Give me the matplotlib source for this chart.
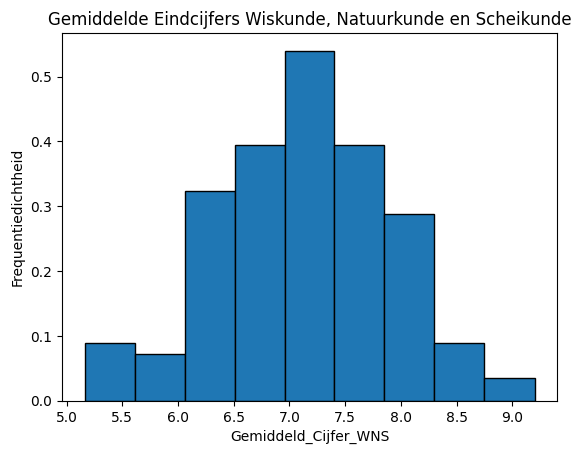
import matplotlib
matplotlib.use("Agg")
import matplotlib.pyplot as plt
import numpy as np

bin_edges = [5.16, 5.609, 6.058, 6.507, 6.956, 7.404, 7.853, 8.302, 8.751, 9.2]
counts = [5, 4, 18, 22, 30, 22, 16, 5, 2]

centers = [(a + b) / 2 for a, b in zip(bin_edges[:-1], bin_edges[1:])]

fig = plt.figure(figsize=(5.81, 4.55), dpi=100)
ax = fig.add_axes([62/581, 1 - 401/455, (557-62)/581, (401-33)/455])
ax.hist(centers, bins=bin_edges, weights=counts, density=True,
        color='#1f77b4', edgecolor='black')
ax.set_title('Gemiddelde Eindcijfers Wiskunde, Natuurkunde en Scheikunde')
ax.set_xlabel('Gemiddeld_Cijfer_WNS')
ax.set_ylabel('Frequentiedichtheid')
fig.savefig('out.png', dpi=100)
